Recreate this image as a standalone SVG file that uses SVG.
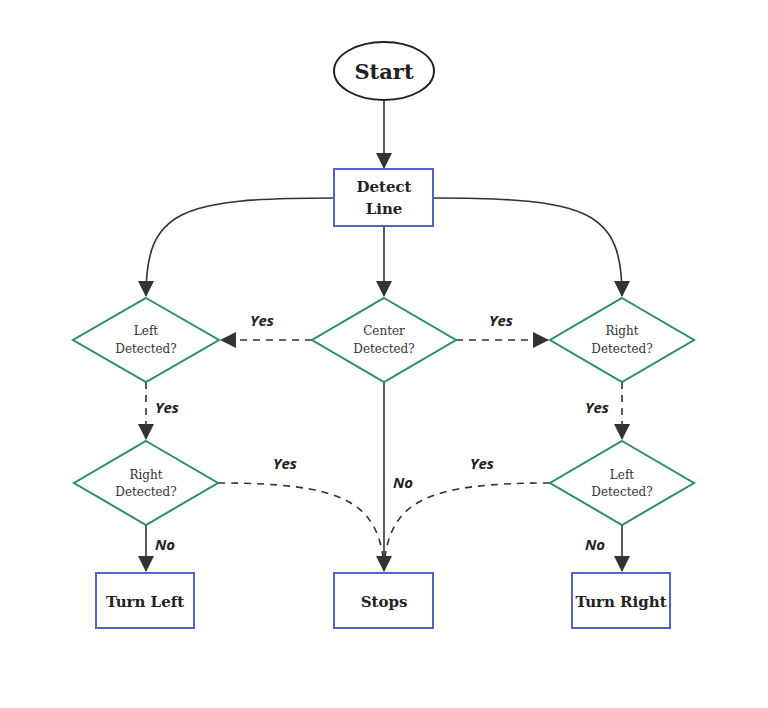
<svg xmlns="http://www.w3.org/2000/svg" width="768" height="708" viewBox="0 0 768 708">
<defs>
<marker id="ah" markerWidth="10" markerHeight="10" refX="9" refY="5" orient="auto" markerUnits="userSpaceOnUse" viewBox="0 0 10 10"><path d="M0,0 L10,5 L0,10 z" fill="#333"/></marker>
<marker id="ahb" markerWidth="16" markerHeight="16" refX="15" refY="8" orient="auto" markerUnits="userSpaceOnUse" viewBox="0 0 16 16"><path d="M0,0 L16,8 L0,16 z" fill="#333"/></marker>
</defs>
<style>
.box{fill:#fff;stroke:#5563c1;stroke-width:2}
.dia{fill:#fff;stroke:#2e8b6e;stroke-width:2}
.t{font-family:"DejaVu Serif","Liberation Serif",serif;font-weight:bold;fill:#222;text-anchor:middle}
.d{font-family:"DejaVu Serif","Liberation Serif",serif;fill:#333;text-anchor:middle;font-size:12px}
.l{font-family:"Open Sans","DejaVu Sans",sans-serif;font-style:italic;font-weight:bold;fill:#222;font-size:15px}
.c{fill:none;stroke:#333;stroke-width:1.6}
.dash{stroke-dasharray:7,6}
</style>
<rect width="768" height="708" fill="#fff"/>
<g id="connectors">
<path class="c" d="M384,100 L384,168" marker-end="url(#ahb)"/>
<path class="c" d="M334,198 C180,198 146,210 146,296" marker-end="url(#ahb)"/>
<path class="c" d="M384,226 L384,296" marker-end="url(#ahb)"/>
<path class="c" d="M433,198 C588,198 622,210 622,296" marker-end="url(#ahb)"/>
<path class="c dash" d="M312,340 L221,340" marker-end="url(#ahb)"/>
<path class="c dash" d="M456,340 L548,340" marker-end="url(#ahb)"/>
<path class="c dash" d="M146,382 L146,439" marker-end="url(#ahb)"/>
<path class="c dash" d="M622,382 L622,439" marker-end="url(#ahb)"/>
<path class="c" d="M384,382 L384,571" marker-end="url(#ahb)"/>
<path class="c dash" d="M218,483 C340,483 378,500 384,565"/>
<path class="c dash" d="M550,483 C428,483 390,500 384,565"/>
<path class="c" d="M146,525 L146,571" marker-end="url(#ahb)"/>
<path class="c" d="M622,525 L622,571" marker-end="url(#ahb)"/>
<text class="l" x="250" y="326">Yes</text>
<text class="l" x="489" y="326">Yes</text>
<text class="l" x="155" y="413">Yes</text>
<text class="l" x="585" y="413">Yes</text>
<text class="l" x="273" y="469">Yes</text>
<text class="l" x="470" y="469">Yes</text>
<text class="l" x="393" y="488">No</text>
<text class="l" x="155" y="550">No</text>
<text class="l" x="585" y="550">No</text>
</g>
<g id="start"><ellipse cx="384" cy="71" rx="50" ry="29" fill="#fff" stroke="#222" stroke-width="2"/><text class="t" x="384" y="79" font-size="21">Start</text></g>
<g id="detect"><rect class="box" x="334" y="169" width="99" height="57"/><text class="t" x="384" y="192" font-size="15">Detect</text><text class="t" x="384" y="214" font-size="15">Line</text></g>
<g id="left1"><polygon class="dia" points="146,298 219,340 146,382 73,340"/><text class="d" x="146" y="335">Left</text><text class="d" x="146" y="353">Detected?</text></g>
<g id="center"><polygon class="dia" points="384,298 456,340 384,382 312,340"/><text class="d" x="384" y="335">Center</text><text class="d" x="384" y="353">Detected?</text></g>
<g id="right1"><polygon class="dia" points="622,298 694,340 622,382 550,340"/><text class="d" x="622" y="335">Right</text><text class="d" x="622" y="353">Detected?</text></g>
<g id="right2"><polygon class="dia" points="146,441 218,483 146,525 74,483"/><text class="d" x="146" y="479">Right</text><text class="d" x="146" y="496">Detected?</text></g>
<g id="left2"><polygon class="dia" points="622,441 694,483 622,525 550,483"/><text class="d" x="622" y="479">Left</text><text class="d" x="622" y="496">Detected?</text></g>
<g id="turnleft"><rect class="box" x="96" y="573" width="98" height="55"/><text class="t" x="145" y="607" font-size="15">Turn Left</text></g>
<g id="stops"><rect class="box" x="334" y="573" width="99" height="55"/><text class="t" x="384" y="607" font-size="15">Stops</text></g>
<g id="turnright"><rect class="box" x="572" y="573" width="98" height="55"/><text class="t" x="621" y="607" font-size="15">Turn Right</text></g>
</svg>
